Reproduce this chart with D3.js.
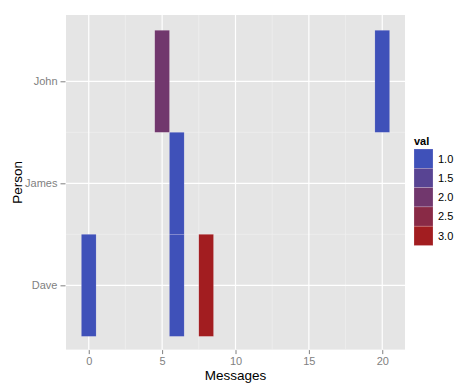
<!DOCTYPE html>
<html>
<head>
<meta charset="utf-8">
<script src="https://cdn.jsdelivr.net/npm/d3@7"></script>
<style>
  body { margin: 0; background: #fff; }
  text { font-family: "Liberation Sans", Arial, sans-serif; }
</style>
</head>
<body>
<svg width="474" height="389"></svg>
<script>
(function (d3) {
  'use strict'

  const people = ['Dave', 'James', 'John']
  const tilePerson = ['Dave', 'Dave', 'Dave', 'James', 'John', 'John']
  const tileMessages = [0, 6, 8, 6, 5, 20]
  const tileVal = [1, 1, 3, 1, 2, 1]
  const xTicks = [0, 5, 10, 15, 20]
  const legendVals = [1.0, 1.5, 2.0, 2.5, 3.0]

  const tiles = tilePerson.map(function (p, i) {
    return { person: p, messages: tileMessages[i], val: tileVal[i] }
  })

  const svg = d3.select('svg')
  const pLeft = 66, pRight = 405, pTop = 15, pBottom = 349.6

  const x = d3.scaleLinear().domain([-1.55, 21.55]).range([pLeft, pRight])
  // people sit at 1..3 on a continuous axis so tiles can be 1 unit high
  const yPos = d3.scaleLinear().domain([0.37, 3.65]).range([pBottom, pTop])
  const idx = function (p) { return people.indexOf(p) + 1 }

  const color = d3.scaleLinear().domain([1, 3])
    .range(['#3f51b9', '#a21d20']).interpolate(d3.interpolateRgb)

  // panel
  svg.append('rect').attr('x', pLeft).attr('y', pTop)
    .attr('width', pRight - pLeft).attr('height', pBottom - pTop).attr('fill', '#e5e5e5')

  const minorX = d3.range(-2.5, 22.5, 5).filter(function (v) { return x(v) > pLeft && x(v) < pRight })
  svg.append('g').selectAll('line').data(minorX).enter().append('line')
    .attr('x1', d => x(d)).attr('x2', d => x(d)).attr('y1', pTop).attr('y2', pBottom)
    .attr('stroke', '#f2f2f2').attr('stroke-width', 0.6)
  svg.append('g').selectAll('line').data([1.5, 2.5]).enter().append('line')
    .attr('y1', d => yPos(d)).attr('y2', d => yPos(d)).attr('x1', pLeft).attr('x2', pRight)
    .attr('stroke', '#f2f2f2').attr('stroke-width', 0.6)

  svg.append('g').selectAll('line').data(xTicks).enter().append('line')
    .attr('x1', d => x(d)).attr('x2', d => x(d)).attr('y1', pTop).attr('y2', pBottom)
    .attr('stroke', '#fff').attr('stroke-width', 1.2)
  svg.append('g').selectAll('line').data(people).enter().append('line')
    .attr('y1', d => yPos(idx(d))).attr('y2', d => yPos(idx(d))).attr('x1', pLeft).attr('x2', pRight)
    .attr('stroke', '#fff').attr('stroke-width', 1.2)

  // tiles
  svg.append('g').selectAll('rect').data(tiles).enter().append('rect')
    .attr('x', d => x(d.messages - 0.5))
    .attr('width', d => x(d.messages + 0.5) - x(d.messages - 0.5))
    .attr('y', d => yPos(idx(d.person) + 0.5))
    .attr('height', d => yPos(idx(d.person) - 0.5) - yPos(idx(d.person) + 0.5))
    .attr('fill', d => color(d.val))
    .attr('stroke', 'rgba(255,240,250,0.25)').attr('stroke-width', 0.5)

  // axes
  const xAxis = d3.axisBottom(x).tickValues(xTicks).tickSize(4).tickPadding(3)
  const gx = svg.append('g').attr('transform', 'translate(0,' + (pBottom + 0.5) + ')').call(xAxis)
  gx.select('.domain').remove()
  gx.selectAll('line').attr('stroke', '#7f7f7f')
  gx.selectAll('text').attr('fill', '#7f7f7f').attr('font-size', 11)
    .attr('font-family', '"Liberation Sans", Arial, sans-serif')

  const yAxis = d3.axisLeft(yPos).tickValues([1, 2, 3])
    .tickFormat(function (v) { return people[v - 1] }).tickSize(5).tickPadding(3)
  const gy = svg.append('g').attr('transform', 'translate(' + (pLeft - 0.5) + ',0)').call(yAxis)
  gy.select('.domain').remove()
  gy.selectAll('line').attr('stroke', '#7f7f7f')
  gy.selectAll('text').attr('fill', '#7f7f7f').attr('font-size', 11)
    .attr('font-family', '"Liberation Sans", Arial, sans-serif')

  svg.append('text').attr('x', (pLeft + pRight) / 2).attr('y', 380)
    .attr('text-anchor', 'middle').attr('font-size', 13.5).text('Messages')
  svg.append('text').attr('transform', 'translate(22,' + ((pTop + pBottom) / 2) + ') rotate(-90)')
    .attr('text-anchor', 'middle').attr('font-size', 13.5).text('Person')

  // legend
  const lg = svg.append('g').attr('class', 'legend')
  lg.append('text').attr('x', 414).attr('y', 144.5).attr('font-size', 11)
    .attr('font-weight', 'bold').text('val')
  lg.selectAll('rect').data(legendVals).enter().append('rect')
    .attr('x', 414).attr('y', (d, i) => 149 + i * 19.3)
    .attr('width', 19).attr('height', 19.3)
    .attr('fill', d => color(d))
    .attr('stroke', 'rgba(255,240,250,0.35)').attr('stroke-width', 0.6)
  lg.selectAll('text.lab').data(legendVals).enter().append('text')
    .attr('class', 'lab')
    .attr('x', 438).attr('y', (d, i) => 149 + i * 19.3 + 9.65)
    .attr('dy', '0.35em').attr('font-size', 11)
    .text(d => d.toFixed(1))
}(d3))
</script>
</body>
</html>
